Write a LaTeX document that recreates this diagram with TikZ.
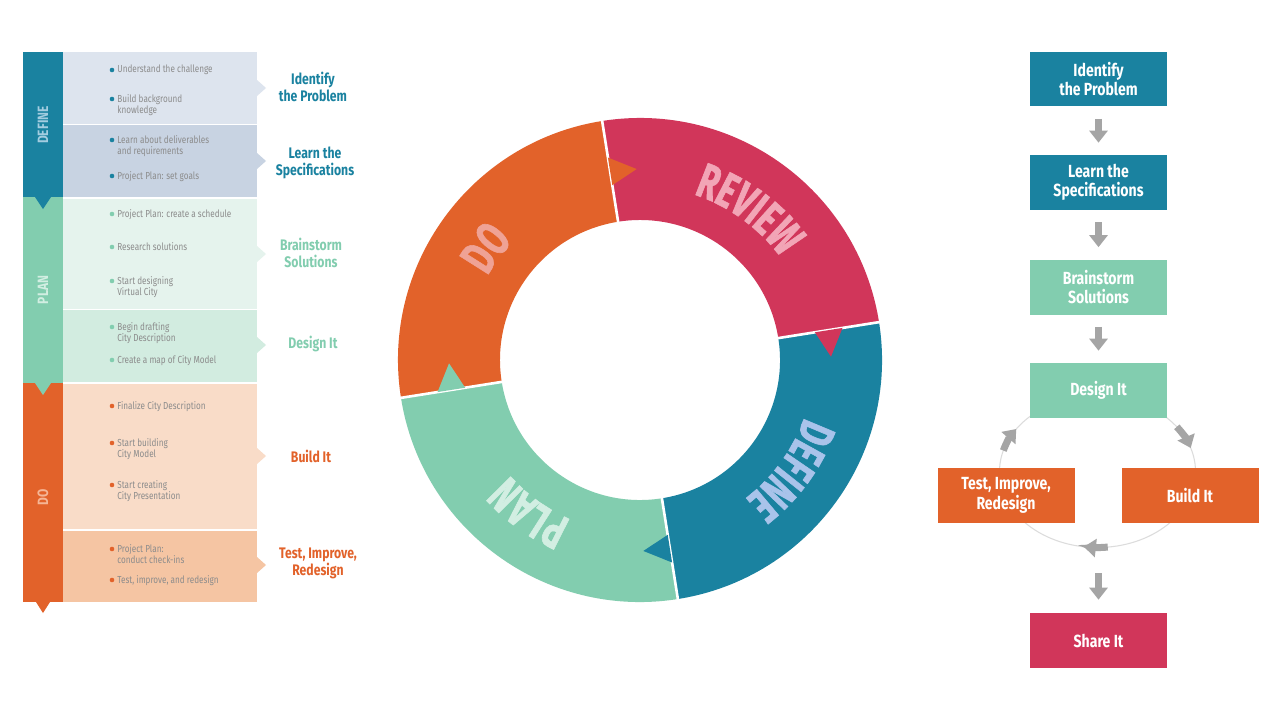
\documentclass[tikz,border=0pt]{standalone}
\usepackage{fontspec}
\setmainfont{Fira Sans}
\newfontfamily\condfont{Fira Sans}[FakeStretch=0.8]
\newfontfamily\heavyfont{Fira Sans}[FakeStretch=0.66, FakeBold=1.2]
\usetikzlibrary{arrows.meta,decorations.text}

\definecolor{defc}{HTML}{1A82A0}
\definecolor{planc}{HTML}{82CDAF}
\definecolor{doc}{HTML}{E2622A}
\definecolor{revc}{HTML}{D1365A}
\definecolor{rowA}{HTML}{DDE4EE}
\definecolor{rowB}{HTML}{C8D3E2}
\definecolor{rowC}{HTML}{E5F3ED}
\definecolor{rowD}{HTML}{D2ECE0}
\definecolor{rowE}{HTML}{F9DCC8}
\definecolor{rowF}{HTML}{F5C5A3}
\definecolor{bulgrey}{HTML}{8C8C8C}
\definecolor{arrowgrey}{HTML}{A5A5A5}
\definecolor{loopgrey}{HTML}{DCDCDC}
\definecolor{deftxt}{HTML}{A3CDE0}
\definecolor{plantxt}{HTML}{D2EEE2}
\definecolor{dotxt}{HTML}{F5B696}
\definecolor{revtxt}{HTML}{F2A5B6}
\definecolor{ringdeftxt}{HTML}{A9C3EA}
\definecolor{ringdotxt}{HTML}{EFA295}

\tikzset{
  sidebar label/.style={rotate=90, inner sep=0pt, font=\condfont\bfseries\fontsize{8.5}{8.5}\selectfont},
  bul/.style={anchor=north west, inner sep=0pt, align=left, text=bulgrey,
    font=\condfont\fontsize{5.8}{6.3}\selectfont},
  steplabel/.style={align=center, inner sep=0pt, font=\condfont\bfseries\fontsize{8.7}{9.8}\selectfont},
  flowbox/.style={minimum width=2.74cm, minimum height=1.1cm, inner sep=0pt, align=center,
    text=white, font=\condfont\bfseries\fontsize{10}{11}\selectfont},
  greyarrow/.style={draw=arrowgrey, line width=0.14cm, -{Triangle[width=0.36cm,length=0.24cm]}},
  ringtext/.style={decorate, decoration={text along path, text align=center, text color=#1}},
}
\newcommand\ringfont{\heavyfont\bfseries\fontsize{28}{28}\selectfont}

\begin{document}
\begin{tikzpicture}[x=0.02cm, y=-0.02cm]
    \fill[white] (0,0) rectangle (1280,720);
    \useasboundingbox (0,0) rectangle (1280,720);

    % Sidebar
    \fill[defc] (23,52) rectangle (63,197);
    \fill[planc] (23,197) rectangle (63,383);
    \fill[doc] (23,383) rectangle (63,602);
    \fill[defc] (35,197) -- (51,197) -- (43,209) -- cycle;
    \fill[planc] (35,383) -- (51,383) -- (43,395) -- cycle;
    \fill[doc] (36,602) -- (50,602) -- (43,613) -- cycle;
    \node[sidebar label, text=deftxt] (sdefine) at (43,125) {DEFINE};
    \node[sidebar label, text=plantxt] (splan) at (43,290) {PLAN};
    \node[sidebar label, text=dotxt] (sdo) at (43,497) {DO};

    % Rows
    \fill[rowA] (63,52) rectangle (257,123.5);
    \fill[rowB] (63,125) rectangle (257,197);
    \fill[rowC] (63,199) rectangle (257,308.5);
    \fill[rowD] (63,310) rectangle (257,381.5);
    \fill[rowE] (63,384) rectangle (257,528.5);
    \fill[rowF] (63,530.5) rectangle (257,602);

    % Tabs
    \fill[rowA] (257,80) -- (266,88) -- (257,96) -- cycle;
    \fill[rowB] (257,153) -- (266,161) -- (257,169) -- cycle;
    \fill[rowC] (257,246) -- (266,254) -- (257,262) -- cycle;
    \fill[rowD] (257,337) -- (266,345) -- (257,353) -- cycle;
    \fill[rowE] (257,448) -- (266,456) -- (257,464) -- cycle;
    \fill[rowF] (257,557) -- (266,565) -- (257,573) -- cycle;

    % Bullets
    \fill[defc] (112,70) circle (1.3pt);
    \node[bul] (b1) at (117,65) {Understand the challenge};
    \fill[defc] (112,99) circle (1.3pt);
    \node[bul] (b2) at (117,94) {Build background\\knowledge};
    \fill[defc] (112,140) circle (1.3pt);
    \node[bul] (b3) at (117,135) {Learn about deliverables\\and requirements};
    \fill[defc] (112,176) circle (1.3pt);
    \node[bul] (b4) at (117,171) {Project Plan: set goals};
    \fill[planc] (112,214) circle (1.3pt);
    \node[bul] (b5) at (117,209) {Project Plan: create a schedule};
    \fill[planc] (112,247) circle (1.3pt);
    \node[bul] (b6) at (117,242) {Research solutions};
    \fill[planc] (112,281) circle (1.3pt);
    \node[bul] (b7) at (117,276) {Start designing\\Virtual City};
    \fill[planc] (112,327) circle (1.3pt);
    \node[bul] (b8) at (117,322) {Begin drafting\\City Description};
    \fill[planc] (112,360) circle (1.3pt);
    \node[bul] (b9) at (117,355) {Create a map of City Model};
    \fill[doc] (112,406) circle (1.3pt);
    \node[bul] (b10) at (117,401) {Finalize City Description};
    \fill[doc] (112,443) circle (1.3pt);
    \node[bul] (b11) at (117,438) {Start building\\City Model};
    \fill[doc] (112,485) circle (1.3pt);
    \node[bul] (b12) at (117,480) {Start creating\\City Presentation};
    \fill[doc] (112,549) circle (1.3pt);
    \node[bul] (b13) at (117,544) {Project Plan:\\conduct check-ins};
    \fill[doc] (112,580) circle (1.3pt);
    \node[bul] (b14) at (117,575) {Test, improve, and redesign};

    % Step labels
    \node[steplabel, text=defc] (lidentify) at (313,87) {Identify\\the Problem};
    \node[steplabel, text=defc] (llearn) at (315,163) {Learn the\\Specifications};
    \node[steplabel, text=planc] (lbrain) at (311,253) {Brainstorm\\Solutions};
    \node[steplabel, text=planc] (ldesign) at (313,344) {Design It};
    \node[steplabel, text=doc] (lbuild) at (311,456) {Build It};
    \node[steplabel, text=doc] (ltest) at (318,563) {Test, Improve,\\Redesign};

    % Ring
    \begin{scope}[shift={(640,360)}, y=0.02cm]
        \fill[revc] (9:140) arc[start angle=9, end angle=99, radius=140] -- (99:242) arc[start angle=99, end angle=9, radius=242] -- cycle;
        \fill[doc] (99:140) arc[start angle=99, end angle=189, radius=140] -- (189:242) arc[start angle=189, end angle=99, radius=242] -- cycle;
        \fill[planc] (189:140) arc[start angle=189, end angle=279, radius=140] -- (279:242) arc[start angle=279, end angle=189, radius=242] -- cycle;
        \fill[defc] (-81:140) arc[start angle=-81, end angle=9, radius=140] -- (9:242) arc[start angle=9, end angle=-81, radius=242] -- cycle;
        \foreach \a in {9,99,189,279}
            \draw[white, line width=1.5pt] (\a:138) -- (\a:244);
        % Tips
        \fill[doc] (99:177) -- (91:191) -- (99:205) -- cycle;
        \fill[revc] (9:177) -- (1:191) -- (9:205) -- cycle;
        \fill[defc] (-81:177) -- (-89:191) -- (-81:205) -- cycle;
        \fill[planc] (189:177) -- (181:191) -- (189:205) -- cycle;
        % Ring labels
        \path[ringtext=revtxt, decoration={text={|\ringfont|REVIEW}}] (99:174) arc[start angle=99, end angle=9, radius=174];
        \path[ringtext=ringdotxt, decoration={text={|\ringfont|DO}}] (189:174) arc[start angle=189, end angle=99, radius=174];
        \path[ringtext=ringdeftxt, decoration={text={|\ringfont|DEFINE}}] (9:174) arc[start angle=9, end angle=-81, radius=174];
        \path[ringtext=plantxt, decoration={text={|\ringfont|PLAN}}] (279:174) arc[start angle=279, end angle=189, radius=174];
    \end{scope}

    % Loop behind the boxes
    \begin{scope}[shift={(1097.5,471.5)}, y=0.02cm]
        \draw[loopgrey, line width=0.6pt] (0,0) ellipse [x radius=98, y radius=76];
    \end{scope}

    % Flow chart
    \node[flowbox, fill=defc] (identify) at (1098.5,79) {Identify\\the Problem};
    \node[flowbox, fill=defc] (learn) at (1098.5,182.5) {Learn the\\Specifications};
    \node[flowbox, fill=planc] (brainstorm) at (1098.5,287) {Brainstorm\\Solutions};
    \node[flowbox, fill=planc] (design) at (1098.5,390.5) {Design It};
    \node[flowbox, fill=doc] (test) at (1006,495.5) {Test, Improve,\\Redesign};
    \node[flowbox, fill=doc] (build) at (1190,495.5) {Build It};
    \node[flowbox, fill=revc] (share) at (1098.5,640.5) {Share It};
    \coordinate (loopout) at (1098.5,573);

    \draw[greyarrow, shorten <=0.24cm, shorten >=0.24cm] (identify) -- (learn);
    \draw[greyarrow, shorten <=0.24cm, shorten >=0.24cm] (learn) -- (brainstorm);
    \draw[greyarrow, shorten <=0.24cm, shorten >=0.24cm] (brainstorm) -- (design);
    \draw[greyarrow, shorten >=0.26cm] (loopout) -- (share);

    % Loop arrows
    \begin{scope}[shift={(1097.5,471.5)}, y=0.02cm]
        \draw[greyarrow] (164:98 and 76) arc[start angle=164, end angle=146, x radius=98, y radius=76];
        \draw[greyarrow] (36:98 and 76) arc[start angle=36, end angle=18, x radius=98, y radius=76];
        \draw[greyarrow] (276:98 and 76) arc[start angle=276, end angle=262, x radius=98, y radius=76];
    \end{scope}
\end{tikzpicture}
\end{document}
